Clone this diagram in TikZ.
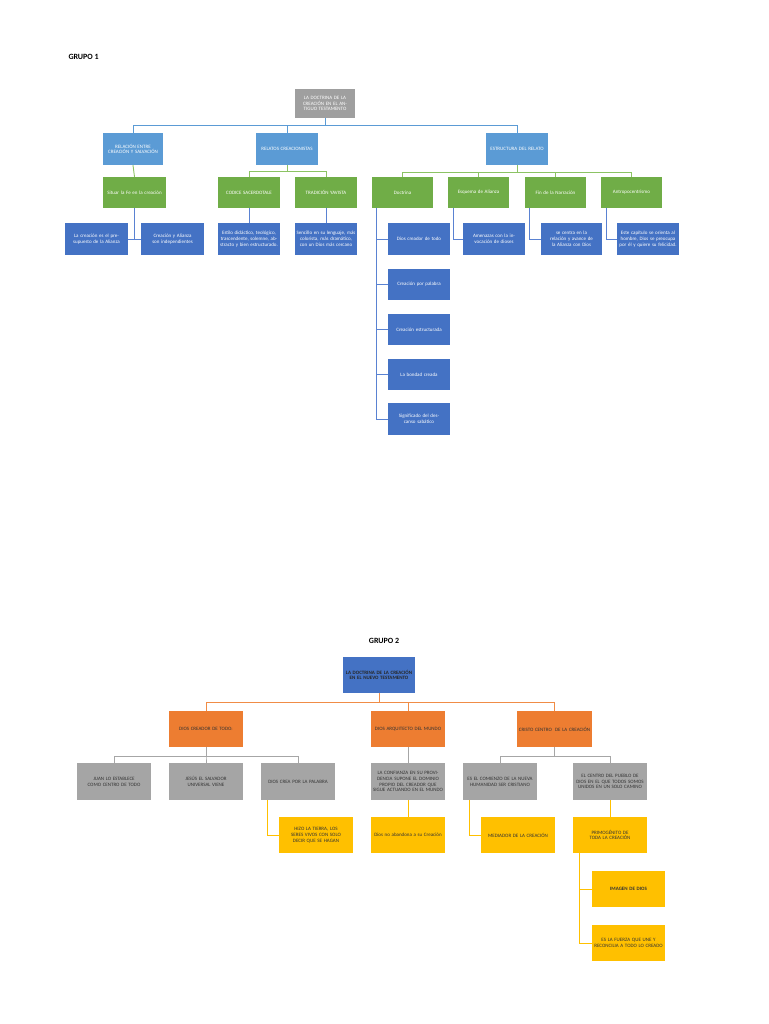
\documentclass[tikz,border=0pt]{standalone}
\usepackage{fontspec}
\setmainfont{Carlito}
\begin{document}
\begin{tikzpicture}[x=1pt,y=1pt,
  base/.style={draw=none,align=center,inner sep=0pt,font=\fontsize{5}{5.8}\selectfont},
  gry/.style={base,fill=gray!75,text=white},
  lb/.style={base,fill=blue!45!cyan!60!white!85!black,text=white},
  gr/.style={base,fill=green!45!black!60!white!95!black,text=white},
  db/.style={base,fill={rgb,255:red,68;green,114;blue,196},text=white},
  lb/.style={base,fill={rgb,255:red,91;green,155;blue,213},text=white},
  gr/.style={base,fill={rgb,255:red,112;green,173;blue,71},text=white},
  rb/.style={base,fill={rgb,255:red,68;green,114;blue,196},text=black!85,font=\bfseries\fontsize{5}{5.8}\selectfont},
  org/.style={base,fill={rgb,255:red,237;green,125;blue,49},text=black!80},
  g2/.style={base,fill={rgb,255:red,165;green,165;blue,165},text=black!80},
  yl/.style={base,fill={rgb,255:red,255;green,192;blue,0},text=black!80},
  lnb/.style={draw={rgb,255:red,91;green,155;blue,213},line width=0.9pt},
  lng/.style={draw={rgb,255:red,140;green,195;blue,100},line width=0.9pt},
  lnd/.style={draw={rgb,255:red,90;green,130;blue,210},line width=0.9pt},
  lno/.style={draw={rgb,255:red,240;green,140;blue,70},line width=0.9pt},
  lngr/.style={draw=gray!70,line width=0.9pt},
  lny/.style={draw={rgb,255:red,255;green,192;blue,0},line width=0.9pt},
  ttl/.style={font=\bfseries\fontsize{8}{9}\selectfont}]
\newcommand\bx[7]{\pgfmathsetmacro\bw{#4-#3}\pgfmathsetmacro\bh{#6-#5}\pgfmathsetmacro\tw{#4-#3-3}\pgfmathsetmacro\cx{(#3+#4)/2}\pgfmathsetmacro\cy{-(#5+#6)/2}%
\node[#1,minimum width=\bw pt,minimum height=\bh pt,text width=\tw pt] (#2) at (\cx,\cy) {#7};}
\useasboundingbox (0,0) rectangle (768,-1024);
\fill[white] (0,0) rectangle (768,-1024);
% GRUPO 1
\node[ttl,anchor=west] (t1) at (65,-57) {GRUPO 1};
\bx{gry}{r1}{295}{355}{89}{118}{LA DOCTRINA DE LA CREACIÓN EN EL ANTIGUO TESTAMENTO}
\bx{lb}{A}{103}{163}{133}{165}{RELACIÓN ENTRE CREACIÓN Y SALVACIÓN}
\bx{lb}{B}{256}{318}{133}{165}{RELATOS CREACIONISTAS}
\bx{lb}{C}{486}{548}{133}{165}{ESTRUCTURA DEL RELATO}
\foreach \c in {A,B,C} \draw[lnb] (r1.south) -- ++(0,-7) -| (\c.north);
\bx{gr}{A1}{103}{166}{177}{208}{Situar la Fe en la creación}
\bx{gr}{B1}{218}{280}{177}{208}{CODICE SACERDOTALE}
\bx{gr}{B2}{295}{357}{177}{208}{TRADICIÓN YAVISTA}
\bx{gr}{C1}{372}{433}{177}{208}{Doctrina}
\bx{gr}{C2}{448}{509}{177}{208}{Esquema de Alianza}
\bx{gr}{C3}{525}{586}{177}{208}{Fin de la Narración}
\bx{gr}{C4}{601}{662}{177}{208}{Antropocentrismo}
\draw[lng] (A.south) -- (A1.north);
\foreach \c in {B1,B2} \draw[lng] (B.south) -- ++(0,-6) -| (\c.north);
\foreach \c in {C1,C2,C3,C4} \draw[lng] (C.south) -- ++(0,-7) -| (\c.north);
\bx{db}{A11}{65}{128}{223}{255}{La creación es el presupuesto de la Alianza}
\bx{db}{A12}{141}{204}{223}{255}{Creación y Alianza son independientes}
\draw[lnd] (A1.south) |- (A11.east);
\draw[lnd] (A1.south) |- (A12.west);
\bx{db}{B11}{218}{280}{223}{255}{Estilo didáctico, teológico, trascendente, solemne, abstracto y bien estructurado.}
\bx{db}{B21}{295}{357}{223}{255}{Sencillo en su lenguaje, más colorista, más dramático, con un Dios más cercano}
\draw[lnd] (B1.south) -- (B11.north);
\draw[lnd] (B2.south) -- (B21.north);
\bx{db}{D1}{388}{450}{223}{255}{Dios creador de todo}
\bx{db}{D2}{388}{450}{269}{300}{Creación por palabra}
\bx{db}{D3}{388}{450}{314}{345}{Creación estructurada}
\bx{db}{D4}{388}{450}{359}{390}{La bondad creada}
\bx{db}{D5}{388}{450}{403}{435}{Significado del descanso sabático}
\foreach \c in {D1,D2,D3,D4,D5} \draw[lnd] ([xshift=5pt]C1.south west) |- (\c.west);
\draw[lnd] ([xshift=5pt]C1.south west) -- ++(0,-211);
\bx{db}{E1}{463}{525}{223}{255}{Amenazas con la invocación de dioses}
\bx{db}{F1}{541}{602}{223}{255}{se centra en la relación y avance de la Alianza con Dios}
\bx{db}{G1}{617}{679}{223}{255}{Este capítulo se orienta al hombre, Dios se preocupa por él y quiere su felicidad.}
\draw[lnd] ([xshift=6pt]C2.south west) |- (E1.west);
\draw[lnd] ([xshift=5pt]C3.south west) |- (F1.west);
\draw[lnd] ([xshift=6pt]C4.south west) |- (G1.west);
% GRUPO 2
\node[ttl] (t2) at (384,-641) {GRUPO 2};
\bx{rb}{r2}{343}{415}{657}{693}{LA DOCTRINA DE LA CREACIÓN EN EL NUEVO TESTAMENTO}
\bx{org}{O1}{169}{243}{711}{747}{DIOS CREADOR DE TODO:}
\bx{org}{O2}{371}{445}{711}{747}{DIOS ARQUITECTO DEL MUNDO}
\bx{org}{O3}{517}{592}{711}{747}{CRISTO CENTRO \ DE LA CREACIÓN}
\foreach \c in {O1,O2,O3} \draw[lno] (r2.south) -- ++(0,-9) -| (\c.north);
\bx{g2}{P1}{77}{151}{763}{800}{JUAN LO ESTABLECE COMO CENTRO DE TODO}
\bx{g2}{P2}{169}{243}{763}{800}{JESÚS EL SALVADOR UNIVERSAL VIENE}
\bx{g2}{P3}{261}{335}{763}{800}{DIOS CREA POR LA PALABRA}
\foreach \c in {P1,P2,P3} \draw[lngr] (O1.south) -- ++(0,-9) -| (\c.north);
\bx{g2}{Q1}{371}{445}{763}{800}{LA CONFIANZA EN SU PROVIDENCIA SUPONE EL DOMINIO PROPIO DEL CREADOR QUE SIGUE ACTUANDO EN EL MUNDO}
\draw[lngr] (O2.south) -- (Q1.north);
\bx{g2}{S1}{463}{537}{763}{800}{ES EL COMIENZO DE LA NUEVA HUMANIDAD SER CRISTIANO}
\bx{g2}{S2}{573}{647}{763}{800}{EL CENTRO DEL PUEBLO DE DIOS EN EL QUE TODOS SOMOS UNIDOS EN UN SOLO CAMINO}
\foreach \c in {S1,S2} \draw[lngr] (O3.south) -- ++(0,-9) -| (\c.north);
\bx{yl}{Y1}{279}{353}{817}{853}{HIZO LA TIERRA, LOS SERES VIVOS CON SOLO DECIR QUE SE HAGAN}
\bx{yl}{Y2}{371}{445}{817}{853}{Dios no abandona a su Creación}
\bx{yl}{Y3}{481}{555}{817}{853}{MEDIADOR DE LA CREACIÓN}
\bx{yl}{Y4}{573}{647}{817}{853}{PRIMOGÉNITO DE TODA LA CREACIÓN}
\bx{yl}{Y5}{592}{665}{871}{907}{\bfseries IMAGEN DE DIOS}
\bx{yl}{Y6}{592}{665}{925}{961}{ES LA FUERZA QUE UNE Y RECONCILIA A TODO LO CREADO}
\draw[lny] ([xshift=7pt]P3.south west) |- (Y1.west);
\draw[lny] (Q1.south) -- (Y2.north);
\draw[lny] ([xshift=7pt]S1.south west) |- (Y3.west);
\draw[lny] (S2.south) -- (Y4.north);
\draw[lny] ([xshift=7pt]Y4.south west) |- (Y5.west);
\draw[lny] ([xshift=7pt]Y4.south west) |- (Y6.west);
\end{tikzpicture}
\end{document}
